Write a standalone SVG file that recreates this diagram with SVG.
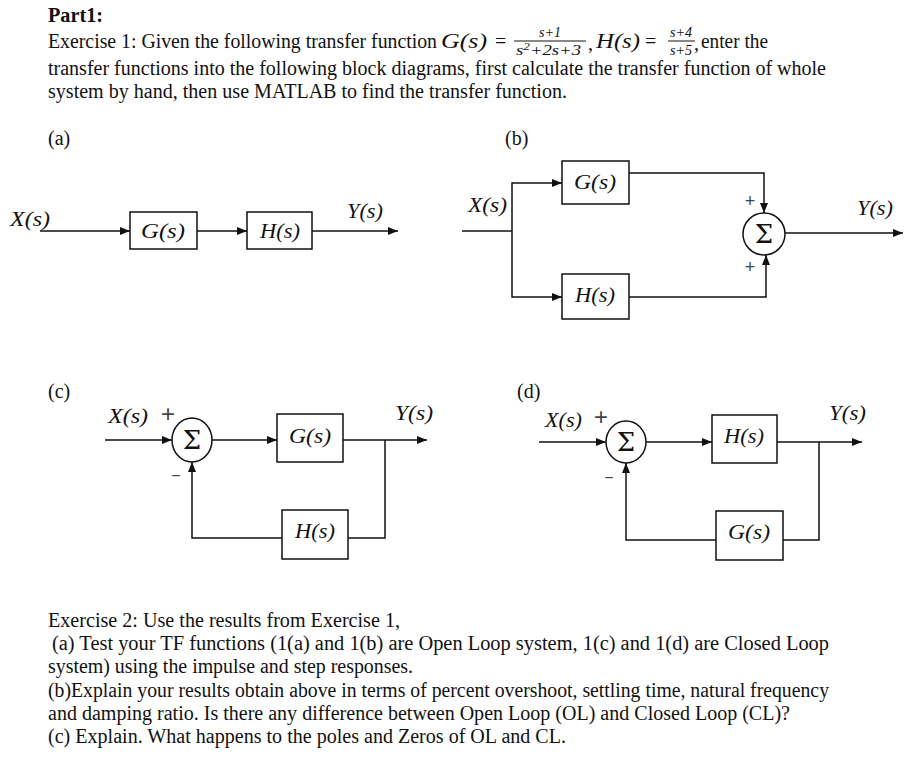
<svg xmlns="http://www.w3.org/2000/svg" width="908" height="763" viewBox="0 0 908 763">
<style>
.t{font-family:"Liberation Serif","Times New Roman",serif;font-size:20px;fill:#111}
.m{font-family:"Liberation Serif","Times New Roman",serif;font-style:italic;font-size:20px;fill:#111}
.f{font-family:"Liberation Serif","Times New Roman",serif;font-style:italic;font-size:14px;fill:#111}
.sg{font-family:"DejaVu Serif","Liberation Serif",serif;font-size:26px;fill:#111;text-anchor:middle}
.pm{font-family:"Liberation Sans",Arial,sans-serif;fill:#444;text-anchor:middle}
.box{fill:#fff;stroke:#111;stroke-width:1.5}
.ln{fill:none;stroke:#111;stroke-width:1.5}
.c{text-anchor:middle}
</style>
<defs>
<marker id="ah" markerUnits="userSpaceOnUse" markerWidth="11" markerHeight="10" refX="10" refY="4" orient="auto">
<path d="M0,0 L10,4 L0,8 z" fill="#111"/>
</marker>
</defs>
<rect width="908" height="763" fill="#fff"/>

<g id="header">
<text class="t" x="48" y="22" font-weight="bold" textLength="55" lengthAdjust="spacingAndGlyphs">Part1:</text>
<text class="t" x="48" y="48" textLength="389" lengthAdjust="spacingAndGlyphs">Exercise 1: Given the following transfer function</text>
<text class="m" x="441" y="48" textLength="46" lengthAdjust="spacingAndGlyphs">G(s)</text>
<text class="t" x="495" y="48">=</text>
<text class="f" x="550" y="37" text-anchor="middle">s+1</text>
<line x1="514" y1="41" x2="586" y2="41" stroke="#111" stroke-width="1"/>
<text class="f" x="516" y="55" textLength="65" lengthAdjust="spacingAndGlyphs">s<tspan font-size="10" dy="-5">2</tspan><tspan dy="5">+2s+3</tspan></text>
<text class="t" x="588" y="50">,</text>
<text class="m" x="596" y="48" textLength="44" lengthAdjust="spacingAndGlyphs">H(s)</text>
<text class="t" x="645" y="48">=</text>
<text class="f" x="681" y="37" text-anchor="middle">s+4</text>
<line x1="668" y1="41" x2="695" y2="41" stroke="#111" stroke-width="1"/>
<text class="f" x="681" y="55" text-anchor="middle">s+5</text>
<text class="t" x="694" y="50">,</text>
<text class="t" x="701" y="48" textLength="67" lengthAdjust="spacingAndGlyphs">enter the</text>
<text class="t" x="48" y="75" textLength="778" lengthAdjust="spacingAndGlyphs">transfer functions into the following block diagrams, first calculate the transfer function of whole</text>
<text class="t" x="48" y="98" textLength="519" lengthAdjust="spacingAndGlyphs">system by hand, then use MATLAB to find the transfer function.</text>
</g>

<g id="labels">
<text class="t" x="48" y="145">(a)</text>
<text class="t" x="505" y="145">(b)</text>
<text class="t" x="48" y="398">(c)</text>
<text class="t" x="517" y="398">(d)</text>
<text class="m" x="10" y="226" textLength="40" lengthAdjust="spacingAndGlyphs">X(s)</text>
<text class="m" x="347" y="218" textLength="36" lengthAdjust="spacingAndGlyphs">Y(s)</text>
<text class="m" x="468" y="212" textLength="39" lengthAdjust="spacingAndGlyphs">X(s)</text>
<text class="m" x="857" y="215" textLength="36" lengthAdjust="spacingAndGlyphs">Y(s)</text>
<text class="m" x="108" y="423" textLength="40" lengthAdjust="spacingAndGlyphs">X(s)</text>
<text class="m" x="395" y="420" textLength="38" lengthAdjust="spacingAndGlyphs">Y(s)</text>
<text class="m" x="545" y="427" textLength="37" lengthAdjust="spacingAndGlyphs">X(s)</text>
<text class="m" x="829" y="420" textLength="37" lengthAdjust="spacingAndGlyphs">Y(s)</text>
<text class="pm" x="750" y="207" font-size="18">+</text>
<text class="pm" x="750" y="273" font-size="18">+</text>
<text class="pm" x="168" y="422" font-size="24">+</text>
<text class="pm" x="176" y="481" font-size="16">−</text>
<text class="pm" x="601" y="425" font-size="24">+</text>
<text class="pm" x="609" y="483" font-size="16">−</text>
</g>

<g id="connectors">
<line class="ln" x1="40" y1="231" x2="130" y2="231" marker-end="url(#ah)"/>
<line class="ln" x1="197" y1="231" x2="247" y2="231" marker-end="url(#ah)"/>
<line class="ln" x1="312" y1="231" x2="398" y2="231" marker-end="url(#ah)"/>

<line class="ln" x1="462" y1="231" x2="512" y2="231"/>
<polyline class="ln" points="512,231 512,183 562,183" marker-end="url(#ah)"/>
<polyline class="ln" points="512,231 512,297 562,297" marker-end="url(#ah)"/>
<polyline class="ln" points="629,173 764,173 764,213" marker-end="url(#ah)"/>
<polyline class="ln" points="629,297 766,297 766,255" marker-end="url(#ah)"/>
<line class="ln" x1="785" y1="233" x2="903" y2="233" marker-end="url(#ah)"/>

<line class="ln" x1="105" y1="440" x2="172" y2="440" marker-end="url(#ah)"/>
<line class="ln" x1="212" y1="440" x2="277" y2="440" marker-end="url(#ah)"/>
<line class="ln" x1="343" y1="440" x2="427" y2="440" marker-end="url(#ah)"/>
<polyline class="ln" points="385,440 385,538 348,538"/>
<polyline class="ln" points="282,538 192,538 192,462" marker-end="url(#ah)"/>

<line class="ln" x1="539" y1="442" x2="606" y2="442" marker-end="url(#ah)"/>
<line class="ln" x1="646" y1="442" x2="712" y2="442" marker-end="url(#ah)"/>
<line class="ln" x1="777" y1="442" x2="862" y2="442" marker-end="url(#ah)"/>
<polyline class="ln" points="819,442 819,540 783,540"/>
<polyline class="ln" points="716,540 626,540 626,463" marker-end="url(#ah)"/>
</g>

<g id="a-G"><rect class="box" x="130" y="212" width="67" height="37"/><text class="m c" x="163" y="238" textLength="44" lengthAdjust="spacingAndGlyphs">G(s)</text></g>
<g id="a-H"><rect class="box" x="247" y="212" width="65" height="37"/><text class="m c" x="280" y="238" textLength="40" lengthAdjust="spacingAndGlyphs">H(s)</text></g>

<g id="b-G"><rect class="box" x="562" y="161" width="67" height="43"/><text class="m c" x="595" y="189" textLength="42" lengthAdjust="spacingAndGlyphs">G(s)</text></g>
<g id="b-H"><rect class="box" x="562" y="274" width="67" height="45"/><text class="m c" x="595" y="302" textLength="40" lengthAdjust="spacingAndGlyphs">H(s)</text></g>
<g id="b-sum"><circle class="box" cx="764" cy="234" r="21"/><text class="sg" x="764" y="243">Σ</text></g>

<g id="c-sum"><ellipse class="box" cx="192" cy="440" rx="20" ry="22"/><text class="sg" x="192" y="449">Σ</text></g>
<g id="c-G"><rect class="box" x="277" y="414" width="66" height="48"/><text class="m c" x="310" y="443" textLength="42" lengthAdjust="spacingAndGlyphs">G(s)</text></g>
<g id="c-H"><rect class="box" x="282" y="510" width="66" height="49"/><text class="m c" x="315" y="538" textLength="40" lengthAdjust="spacingAndGlyphs">H(s)</text></g>

<g id="d-sum"><ellipse class="box" cx="626" cy="442" rx="20" ry="21"/><text class="sg" x="626" y="451">Σ</text></g>
<g id="d-H"><rect class="box" x="712" y="415" width="65" height="48"/><text class="m c" x="744" y="443" textLength="40" lengthAdjust="spacingAndGlyphs">H(s)</text></g>
<g id="d-G"><rect class="box" x="716" y="511" width="67" height="49"/><text class="m c" x="749" y="539" textLength="42" lengthAdjust="spacingAndGlyphs">G(s)</text></g>

<g id="exercise2">
<text class="t" x="48" y="627" textLength="352" lengthAdjust="spacingAndGlyphs">Exercise 2: Use the results from Exercise 1,</text>
<text class="t" x="52" y="650" textLength="777" lengthAdjust="spacingAndGlyphs">(a) Test your TF functions (1(a) and 1(b) are Open Loop system, 1(c) and 1(d) are Closed Loop</text>
<text class="t" x="48" y="673" textLength="365" lengthAdjust="spacingAndGlyphs">system) using the impulse and step responses.</text>
<text class="t" x="48" y="697" textLength="781" lengthAdjust="spacingAndGlyphs">(b)Explain your results obtain above in terms of percent overshoot, settling time, natural frequency</text>
<text class="t" x="48" y="720" textLength="742" lengthAdjust="spacingAndGlyphs">and damping ratio. Is there any difference between Open Loop (OL) and Closed Loop (CL)?</text>
<text class="t" x="48" y="743" textLength="518" lengthAdjust="spacingAndGlyphs">(c) Explain. What happens to the poles and Zeros of OL and CL.</text>
</g>
</svg>
